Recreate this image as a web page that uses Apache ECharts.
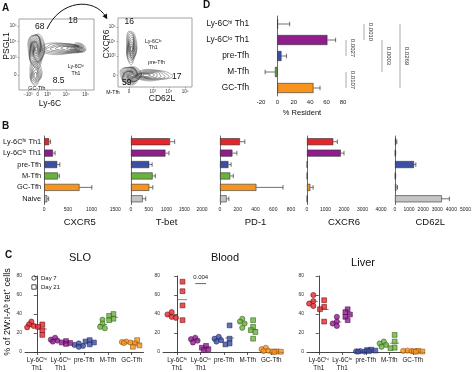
<!DOCTYPE html>
<html><head><meta charset="utf-8">
<script src="https://cdn.jsdelivr.net/npm/echarts@6.0.0/dist/echarts.min.js"></script>
<style>html,body{margin:0;padding:0;background:#fff}#c{width:474px;height:372px}</style>
</head><body><div id="c"></div>
<script>
// ================= DATA =================
const HI = 'Ly-6Cʰⁱ Th1', LO = 'Ly-6Cˡᵒ Th1';
// Panel A (flow plots, display units 0-100 on biexponential axes)
const aTickValues = [-1000, 0, 1000, 10000, 100000];
const aTickLabels = ['−10³', '0', '10³', '10⁴', '10⁵'];
// blobs: [cx, cy, rx, ry, levels, peakDx, peakDy]
const leftBlobs  = [[23, 56, 11, 24, 14, 0, 2], [22, 24, 8, 17, 6, 0, -4], [56, 58, 30, 8, 7, 16, 1], [79, 59, 10, 7, 5, 0, 0]];
const rightBlobs = [[17, 17, 14, 13, 14, 2, 0], [18, 58, 7, 24, 9, 0, -3], [47, 17, 25, 8, 7, -10, 0]];
// gates: [x1, x2, y1, y2]
const leftGates  = [[11, 44, 45, 82], [51, 93, 39, 90], [12, 41, 4, 44]];
const leftFreq   = ['68', '18', '8.5'];
const leftNames  = ['', 'Ly-6Cʰⁱ\nTh1', 'GC-Tfh'];
const rightGates = [[0.5, 30, 35, 87], [4, 34, 0.5, 32], [35, 69, 0.5, 30]];
const rightFreq  = ['16', '59', '17'];
const rightNames = ['Ly-6Cˡᵒ\nTh1', 'M-Tfh', 'pre-Tfh'];

// Panel B
const subsetNames = [HI, LO, 'pre-Tfh', 'M-Tfh', 'GC-Tfh', 'Naive'];
const markerNames = ['CXCR5', 'T-bet', 'PD-1', 'CXCR6', 'CD62L'];
const markerMax = [1500, 2000, 800, 4000, 5000];
const markerInterval = [500, 500, 200, 1000, 1000];
const cxcr5Mean = [105, 185, 275, 290, 745, 65];
const cxcr5Sem  = [30, 45, 55, 30, 260, 30];
const tbetMean  = [1100, 970, 515, 610, 515, 330];
const tbetSem   = [130, 100, 80, 75, 100, 85];
const pd1Mean   = [225, 140, 95, 115, 410, 75];
const pd1Sem    = [55, 50, 30, 35, 300, 25];
const cxcr6Mean = [1420, 1830, 10, 10, 180, 10];
const cxcr6Sem  = [220, 170, 0, 0, 150, 0];
const cd62lMean = [80, 30, 1350, 30, 100, 3330];
const cd62lSem  = [50, 20, 130, 20, 80, 530];

// Panel D
const residentCats = [HI, LO, 'pre-Tfh', 'M-Tfh', 'GC-Tfh'];
const residentMean = [0.5, 61, 5, -3, 44];
const residentSem  = [14.5, 10, 6, 12, 8];
const pFrom  = [1, 0, 1, 0, 3];
const pTo    = [2, 1, 3, 4, 4];
const pText  = ['0.0027', '0.0010', '0.0003', '0.0269', '0.0107'];
const pLevel = [0, 1, 2, 3, 0];

// Panel C
const cCats = ['Ly-6Cʰⁱ\nTh1', 'Ly-6Cˡᵒ\nTh1', 'pre-Tfh', 'M-Tfh', 'GC-Tfh'];
const sloDay7    = [[32, 29, 27.5, 26], [15, 13, 12, 11], [9, 7.5, 6.5, 5.5], [34, 30, 26.5, 25], [11, 10.5, 10, 9.5]];
const sloDay21   = [[29, 26.5, 23, 18], [11.5, 10, 9.5, 8.5], [12.5, 11, 10, 8], [40, 38, 35, 33.5], [12.5, 9, 7, 5.5]];
const bloodDay7  = [[42, 39.5, 37, 36], [15, 13.5, 12, 10], [16, 14, 12.5, 11], [35, 32, 30, 25.5], [4.5, 3, 1.5, 1]];
const bloodDay21 = [[74, 64, 49, 33.5], [6.5, 4.5, 3, 2], [28, 14, 9, 8], [33.5, 26.5, 23, 21, 14], [0.6, 0.4, 0.3, 0.2]];
const liverDay7  = [[60, 53.5, 51, 48.5], [37, 32, 30, 27.5], [1, 0.7, 0.5, 0.4], [11, 9, 7.5, 5.5], [1.5, 1.2, 1]];
const liverDay21 = [[54.5, 47.5, 45, 32], [45, 42, 39.5, 37, 33.5], [2.5, 2, 1.5, 1], [18, 11, 4.5, 4], [1.2, 0.8, 0.5, 0.3]];
const organNames = ['SLO', 'Blood', 'Liver'];
const bloodPCat = 1, bloodPValue = 72, bloodPText = '0.004';

// ================= STYLE / LAYOUT =================
const F = '"Liberation Sans", Arial, Helvetica, sans-serif';
const subsetColors = ['#e2262b', '#8f1d8c', '#3c4fa3', '#6ab23e', '#f79420', '#c4c4c4'];
const subsetEdges  = ['#6e0d10', '#4a0a48', '#1c2760', '#2f5d16', '#8a4c05', '#555'];
const gateColorsL = ['#9c9c9c', '#e4393c', '#f0a030'];
const gateColorsR = ['#a0368f', '#8dc153', '#5767ad'];
const scaleL = {x: [25, 11.3, 700], y: [21, 9.55, 146]};
const scaleR = {x: [15, 9.5, 69], y: [17, 9.1, 92]};
const biex = (p, v) => p[0] + p[1] * Math.asinh(v / p[2]);
const plain = v => String(v);

const chart = echarts.init(document.getElementById('c'), null, {width: 474, height: 372});
const grids = [], xAxis = [], yAxis = [], series = [], graphic = [];

function txt(x, y, text, size, o = {}) {
  graphic.push({type: 'text', x, y, rotation: o.rot || 0, silent: true, z: 50,
    style: {text, fontSize: size, fontFamily: F, fontWeight: o.bold ? 'bold' : 'normal',
      fill: o.color || '#111', align: o.align || 'center', verticalAlign: o.va || 'middle',
      textAlign: o.align || 'center', textVerticalAlign: o.va || 'middle', lineHeight: o.lh}});
}

// ---------- Panel A ----------
function flowAxis(gi, p, isX) {
  const vals = aTickValues.map(v => biex(p, v));
  const keep = vals.map((v, i) => [v, i]).filter(a => a[0] >= 0 && a[0] <= 100);
  const ax = {gridIndex: gi, type: 'value', min: 0, max: 100, splitLine: {show: false},
    axisLine: {show: false},
    axisTick: {show: true, customValues: keep.map(a => a[0]), length: 1.5, lineStyle: {color: '#666', width: 0.5}},
    axisLabel: {customValues: keep.map(a => a[0]), fontSize: 4.5, fontFamily: F, color: '#333', margin: 2.5,
      formatter: v => { let b = keep[0]; keep.forEach(a => { if (Math.abs(a[0] - v) < Math.abs(b[0] - v)) b = a; }); return aTickLabels[b[1]]; }}};
  (isX ? xAxis : yAxis).push(ax);
}
function placeText(r, mode) {
  const cx = r.x + r.w / 2, cy = r.y + r.h / 2;
  switch (mode) {
    case 'top': return [cx, r.y - 0.5, 'center', 'bottom'];
    case 'below': return [cx + 3, r.y + r.h + 1.5, 'center', 'top'];
    case 'right': return [r.x + r.w + 3, cy, 'left', 'middle'];
    case 'rightLow': return [r.x + r.w + 3, r.y + r.h * 0.78, 'left', 'middle'];
    case 'rightCenter': return [r.x + r.w + 13, cy, 'center', 'middle'];
    case 'onBottom': return [cx - 2, r.y + r.h + 1, 'center', 'middle'];
    case 'insideBottomLeft': return [r.x + 1, r.y + r.h + 0.5, 'left', 'bottom'];
    case 'belowLeft': return [r.x - 8, r.y + r.h + 6, 'center', 'middle'];
  }
}
function flowPanel(gi, rect, p, blobs, gates, colors, freqs, freqPlace, names, namePlace) {
  grids.push({left: rect[0], top: rect[1], width: rect[2], height: rect[3], show: true, borderColor: '#8a8a8a', borderWidth: 0.8, backgroundColor: 'transparent'});
  flowAxis(gi, p.x, true); flowAxis(gi, p.y, false);
  series.push({type: 'custom', xAxisIndex: gi, yAxisIndex: gi, silent: true, clip: true, z: 2,
    data: blobs.map((b, i) => [b[0], b[1], i]), encode: {x: 0, y: 1},
    renderItem(params, api) {
      const i = api.value(2), b = blobs[i];
      const [cx, cy, rx, ry, n, pdx, pdy] = b;
      const children = [];
      for (let k = 0; k < n; k++) {
        const t = k / n, s = Math.pow(1 - t, 0.8);
        const ccx = cx + pdx * t, ccy = cy + pdy * t, pts = [];
        for (let a = 0; a < 56; a++) {
          const th = a / 56 * 2 * Math.PI;
          const w = 1 + 0.08 * Math.sin(3 * th + k * 0.8 + i) + 0.04 * Math.cos(5 * th + i);
          pts.push(api.coord([ccx + rx * s * w * Math.cos(th), ccy + ry * s * w * Math.sin(th)]));
        }
        const g = Math.round(110 - 110 * t);
        children.push({type: 'polygon', shape: {points: pts}, style: {fill: 'none', stroke: `rgb(${g},${g},${g})`, lineWidth: 0.55}});
      }
      return {type: 'group', children};
    }});
  series.push({type: 'custom', xAxisIndex: gi, yAxisIndex: gi, silent: true, clip: false, z: 5,
    data: gates.map((g, i) => [g[0], g[2], i]), encode: {x: 0, y: 1},
    renderItem(params, api) {
      const i = api.value(2), g = gates[i];
      const p1 = api.coord([g[0], g[3]]), p2 = api.coord([g[1], g[2]]);
      const r = {x: p1[0], y: p1[1], w: p2[0] - p1[0], h: p2[1] - p1[1]};
      const ch = [{type: 'rect', shape: r, style: {fill: 'none', stroke: colors[i], lineWidth: 1}}];
      const mk = (text, mode, size) => { const q = placeText(r, mode);
        ch.push({type: 'text', x: q[0], y: q[1], style: {text, fontSize: size, fontFamily: F, fill: '#111', align: q[2], verticalAlign: q[3], textAlign: q[2], textVerticalAlign: q[3], lineHeight: size + 1}}); };
      if (freqs[i]) mk(freqs[i], freqPlace[i], 8.5);
      if (names[i]) mk(names[i], namePlace[i], 5.2);
      return {type: 'group', children: ch};
    }});
}
flowPanel(0, [19, 19, 75, 71], scaleL, leftBlobs, leftGates, gateColorsL, leftFreq, ['top', 'top', 'rightLow'], leftNames, ['', 'below', 'onBottom']);
flowPanel(1, [118, 18, 74, 69], scaleR, rightBlobs, rightGates, gateColorsR, rightFreq, ['top', 'insideBottomLeft', 'right'], rightNames, ['rightCenter', 'belowLeft', 'top']);
txt(50, 104, 'Ly-6C', 8.5);
txt(7, 46, 'PSGL1', 8.5, {rot: Math.PI / 2});
txt(162, 99, 'CD62L', 8.5);
txt(107, 44, 'CXCR6', 8.5, {rot: Math.PI / 2});
// arrow
(function () {
  const x1 = 47, y1 = 29, c1x = 60, c1y = 0, c2x = 94, c2y = -3, x2 = 106, y2 = 17;
  graphic.push({type: 'bezierCurve', silent: true, shape: {x1, y1, cpx1: c1x, cpy1: c1y, cpx2: c2x, cpy2: c2y, x2, y2}, style: {stroke: '#111', lineWidth: 1, fill: 'none'}});
  const a = Math.atan2(y2 - c2y, x2 - c2x), L = 5, W = 2.6;
  const tip = [x2 + Math.cos(a) * 2.5, y2 + Math.sin(a) * 2.5];
  const bx = tip[0] - Math.cos(a) * L, by = tip[1] - Math.sin(a) * L;
  graphic.push({type: 'polygon', silent: true, shape: {points: [tip, [bx - Math.sin(a) * W, by + Math.cos(a) * W], [bx + Math.sin(a) * W, by - Math.cos(a) * W]]}, style: {fill: '#111'}});
})();

// ---------- bar helper ----------
function errSeries(gi, means, sems) {
  return {type: 'custom', xAxisIndex: gi, yAxisIndex: gi, silent: true, clip: false, z: 4,
    data: means.map((m, j) => [m, j, sems[j]]), encode: {x: 0, y: 1},
    renderItem(params, api) {
      const m = api.value(0), j = api.value(1), e = api.value(2);
      if (!e) return null;
      const d = m < 0 ? -1 : 1;
      const p0 = api.coord([m, j]), p1 = api.coord([m + d * e, j]);
      const st = {stroke: '#333', lineWidth: 0.7};
      return {type: 'group', children: [
        {type: 'line', shape: {x1: p0[0], y1: p0[1], x2: p1[0], y2: p1[1]}, style: st},
        {type: 'line', shape: {x1: p1[0], y1: p1[1] - 2.3, x2: p1[0], y2: p1[1] + 2.3}, style: st}]};
    }};
}
function barSeries(gi, means, w) {
  return {type: 'bar', xAxisIndex: gi, yAxisIndex: gi, barWidth: w, silent: true, z: 3,
    data: means.map((v, j) => ({value: v, itemStyle: {color: subsetColors[j], borderColor: '#333', borderWidth: 0.6}}))};
}

// ---------- Panel D ----------
grids.push({left: 261, top: 16, width: 82, height: 80});
xAxis.push({gridIndex: 2, type: 'value', min: -20, max: 80, interval: 20, splitLine: {show: false},
  axisLine: {lineStyle: {color: '#444', width: 0.8}}, axisTick: {length: 2.5, lineStyle: {color: '#444', width: 0.7}},
  axisLabel: {fontSize: 6, fontFamily: F, color: '#222', margin: 3, formatter: plain},
  name: '% Resident', nameLocation: 'middle', nameGap: 13, nameTextStyle: {fontSize: 7.5, fontFamily: F, color: '#111'}});
yAxis.push({gridIndex: 2, type: 'category', data: residentCats, inverse: true,
  axisLine: {onZero: true, lineStyle: {color: '#444', width: 0.8}}, axisTick: {alignWithLabel: true, length: 4, lineStyle: {color: '#444', width: 0.7}},
  axisLabel: {fontSize: 8.3, fontFamily: F, color: '#111', margin: 12}});
series.push(barSeries(2, residentMean, 10));
series.push(errSeries(2, residentMean, residentSem));
series.push({type: 'custom', xAxisIndex: 2, yAxisIndex: 2, silent: true, clip: false, z: 5,
  data: pFrom.map((f, i) => [0, f, i]), encode: {x: 0, y: 1},
  renderItem(params, api) {
    const i = api.value(2), cs = params.coordSys;
    const x = cs.x + cs.width + 3 + pLevel[i] * 18;
    const ya = api.coord([0, pFrom[i]])[1], yb = api.coord([0, pTo[i]])[1];
    return {type: 'group', children: [
      {type: 'line', shape: {x1: x, y1: ya, x2: x, y2: yb}, style: {stroke: '#aaa', lineWidth: 1}},
      {type: 'text', x: x + 7, y: (ya + yb) / 2, rotation: -Math.PI / 2,
        style: {text: pText[i], fontSize: 6, fontFamily: F, fill: '#333', align: 'center', verticalAlign: 'middle', textAlign: 'center', textVerticalAlign: 'middle'}}]};
  }});

// ---------- Panel B ----------
const bMeans = [cxcr5Mean, tbetMean, pd1Mean, cxcr6Mean, cd62lMean];
const bSems = [cxcr5Sem, tbetSem, pd1Sem, cxcr6Sem, cd62lSem];
const bLeft = [43, 131, 220, 307, 395], bWidth = [72.3, 71, 71, 74, 72];
for (let i = 0; i < 5; i++) {
  const gi = 3 + i;
  grids.push({left: bLeft[i], top: 136, width: bWidth[i], height: 68.5});
  xAxis.push({gridIndex: gi, type: 'value', min: 0, max: markerMax[i], interval: markerInterval[i], splitLine: {show: false},
    axisLine: {lineStyle: {color: '#444', width: 0.8}}, axisTick: {length: 2.5, lineStyle: {color: '#444', width: 0.7}},
    axisLabel: {fontSize: 5, fontFamily: F, color: '#222', margin: 3, formatter: plain},
    name: markerNames[i], nameLocation: 'middle', nameGap: 12.5, nameTextStyle: {fontSize: 9.5, fontFamily: F, color: '#111'}});
  yAxis.push({gridIndex: gi, type: 'category', data: subsetNames, inverse: true,
    axisLine: {lineStyle: {color: '#444', width: 0.8}}, axisTick: {alignWithLabel: true, length: 2.5, lineStyle: {color: '#444', width: 0.7}},
    axisLabel: {show: i === 0, fontSize: 7.4, fontFamily: F, color: '#111', margin: 3}});
  series.push(barSeries(gi, bMeans[i], 7));
  series.push(errSeries(gi, bMeans[i], bSems[i]));
}

// ---------- Panel C ----------
const organData = [[sloDay7, sloDay21], [bloodDay7, bloodDay21], [liverDay7, liverDay21]];
const cLeft = [25, 163, 307], cWidth = [118.5, 120, 117.5], cMin = [-0.5, -0.6, -0.5];
const catPx = 23.5, unitPx = 76 / 80, side = 0.23;
function swarm(vals, center) {
  const order = vals.map((v, i) => [v, i]).sort((a, b) => b[0] - a[0]);
  const placed = [], out = [];
  const cands = [0, -2.3, 2.3, -4.2, 4.2];
  order.forEach(([v]) => {
    let best = 0, bestD = -1;
    for (const c of cands) {
      let dmin = 1e9;
      placed.forEach(p => { dmin = Math.min(dmin, Math.hypot(p[0] - c, (p[1] - v) * unitPx)); });
      if (dmin >= 3.6) { best = c; bestD = 1e9; break; }
      if (dmin > bestD) { bestD = dmin; best = c; }
    }
    placed.push([best, v]);
    out.push([center + best / catPx, v]);
  });
  return out;
}
for (let o = 0; o < 3; o++) {
  const gi = 8 + o;
  grids.push({left: cLeft[o], top: 276, width: cWidth[o], height: 76});
  xAxis.push({gridIndex: gi, type: 'value', min: cMin[o], max: 4.5, splitLine: {show: false},
    axisLine: {lineStyle: {color: '#333', width: 0.9}},
    axisTick: {customValues: [0, 1, 2, 3, 4], length: 3, lineStyle: {color: '#333', width: 0.8}},
    axisLabel: {customValues: [0, 1, 2, 3, 4], formatter: v => cCats[Math.round(v)], fontSize: 6.3, lineHeight: 8, fontFamily: F, color: '#111', margin: 4}});
  yAxis.push({gridIndex: gi, type: 'value', min: 0, max: 80, interval: 20, splitLine: {show: false},
    axisLine: {show: true, lineStyle: {color: '#333', width: 0.9}}, axisTick: {show: true, length: 3, lineStyle: {color: '#333', width: 0.8}},
    axisLabel: {fontSize: 5, fontFamily: F, color: '#333', margin: 3}});
  const means = [];
  organData[o].forEach((dayData, d) => {
    const pts = [];
    dayData.forEach((vals, c) => {
      const cx = c + (d === 0 ? -side : side);
      means.push([cx, vals.reduce((a, b) => a + b, 0) / vals.length]);
      swarm(vals, cx).forEach(p => pts.push({value: p, itemStyle: {color: subsetColors[c], borderColor: subsetEdges[c], borderWidth: 0.7}}));
    });
    series.push({type: 'scatter', xAxisIndex: gi, yAxisIndex: gi, silent: true, z: 4,
      symbol: d === 0 ? 'circle' : 'rect', symbolSize: d === 0 ? 5.2 : 4.8, data: pts});
  });
  series.push({type: 'custom', xAxisIndex: gi, yAxisIndex: gi, silent: true, z: 3, data: means, encode: {x: 0, y: 1},
    renderItem(params, api) {
      const p = api.coord([api.value(0), api.value(1)]);
      return {type: 'line', shape: {x1: p[0] - 4.5, y1: p[1], x2: p[0] + 4.5, y2: p[1]}, style: {stroke: '#888', lineWidth: 1}};
    }});
  if (o === 1) {
    series.push({type: 'custom', xAxisIndex: gi, yAxisIndex: gi, silent: true, z: 5, clip: false,
      data: [[bloodPCat, bloodPValue]], encode: {x: 0, y: 1},
      renderItem(params, api) {
        const c = api.value(0), v = api.value(1);
        const a = api.coord([c - side, v]), b = api.coord([c + side, v]);
        return {type: 'group', children: [
          {type: 'line', shape: {x1: a[0], y1: a[1], x2: b[0], y2: b[1]}, style: {stroke: '#555', lineWidth: 0.9}},
          {type: 'text', x: (a[0] + b[0]) / 2, y: a[1] - 6, style: {text: bloodPText, fontSize: 6, fontFamily: F, fill: '#222', align: 'center', verticalAlign: 'middle', textAlign: 'center', textVerticalAlign: 'middle'}}]};
      }});
  }
}
txt(80, 258, organNames[0], 11);
txt(225, 258, organNames[1], 11);
txt(363, 263, organNames[2], 11);
txt(8, 312, '% of 2W:I-Aᵇ tet⁺ cells', 9, {rot: Math.PI / 2});
// legend (Day 7 / Day 21)
graphic.push({type: 'circle', silent: true, shape: {cx: 34, cy: 278, r: 2.2}, style: {fill: '#fff', stroke: '#222', lineWidth: 0.8}});
graphic.push({type: 'rect', silent: true, shape: {x: 31.8, y: 284.8, width: 4.4, height: 4.4}, style: {fill: '#fff', stroke: '#222', lineWidth: 0.8}});
txt(41, 278, 'Day 7', 6, {align: 'left'});
txt(41, 287, 'Day 21', 6, {align: 'left'});

// panel letters
txt(2, 3, 'A', 10, {bold: true, align: 'left', va: 'top'});
txt(2, 121, 'B', 10, {bold: true, align: 'left', va: 'top'});
txt(5, 250, 'C', 10, {bold: true, align: 'left', va: 'top'});
txt(203, 0, 'D', 10, {bold: true, align: 'left', va: 'top'});

chart.setOption({animation: false, backgroundColor: '#fff', textStyle: {fontFamily: F}, grid: grids, xAxis, yAxis, series, graphic: {elements: graphic}});
</script></body></html>
